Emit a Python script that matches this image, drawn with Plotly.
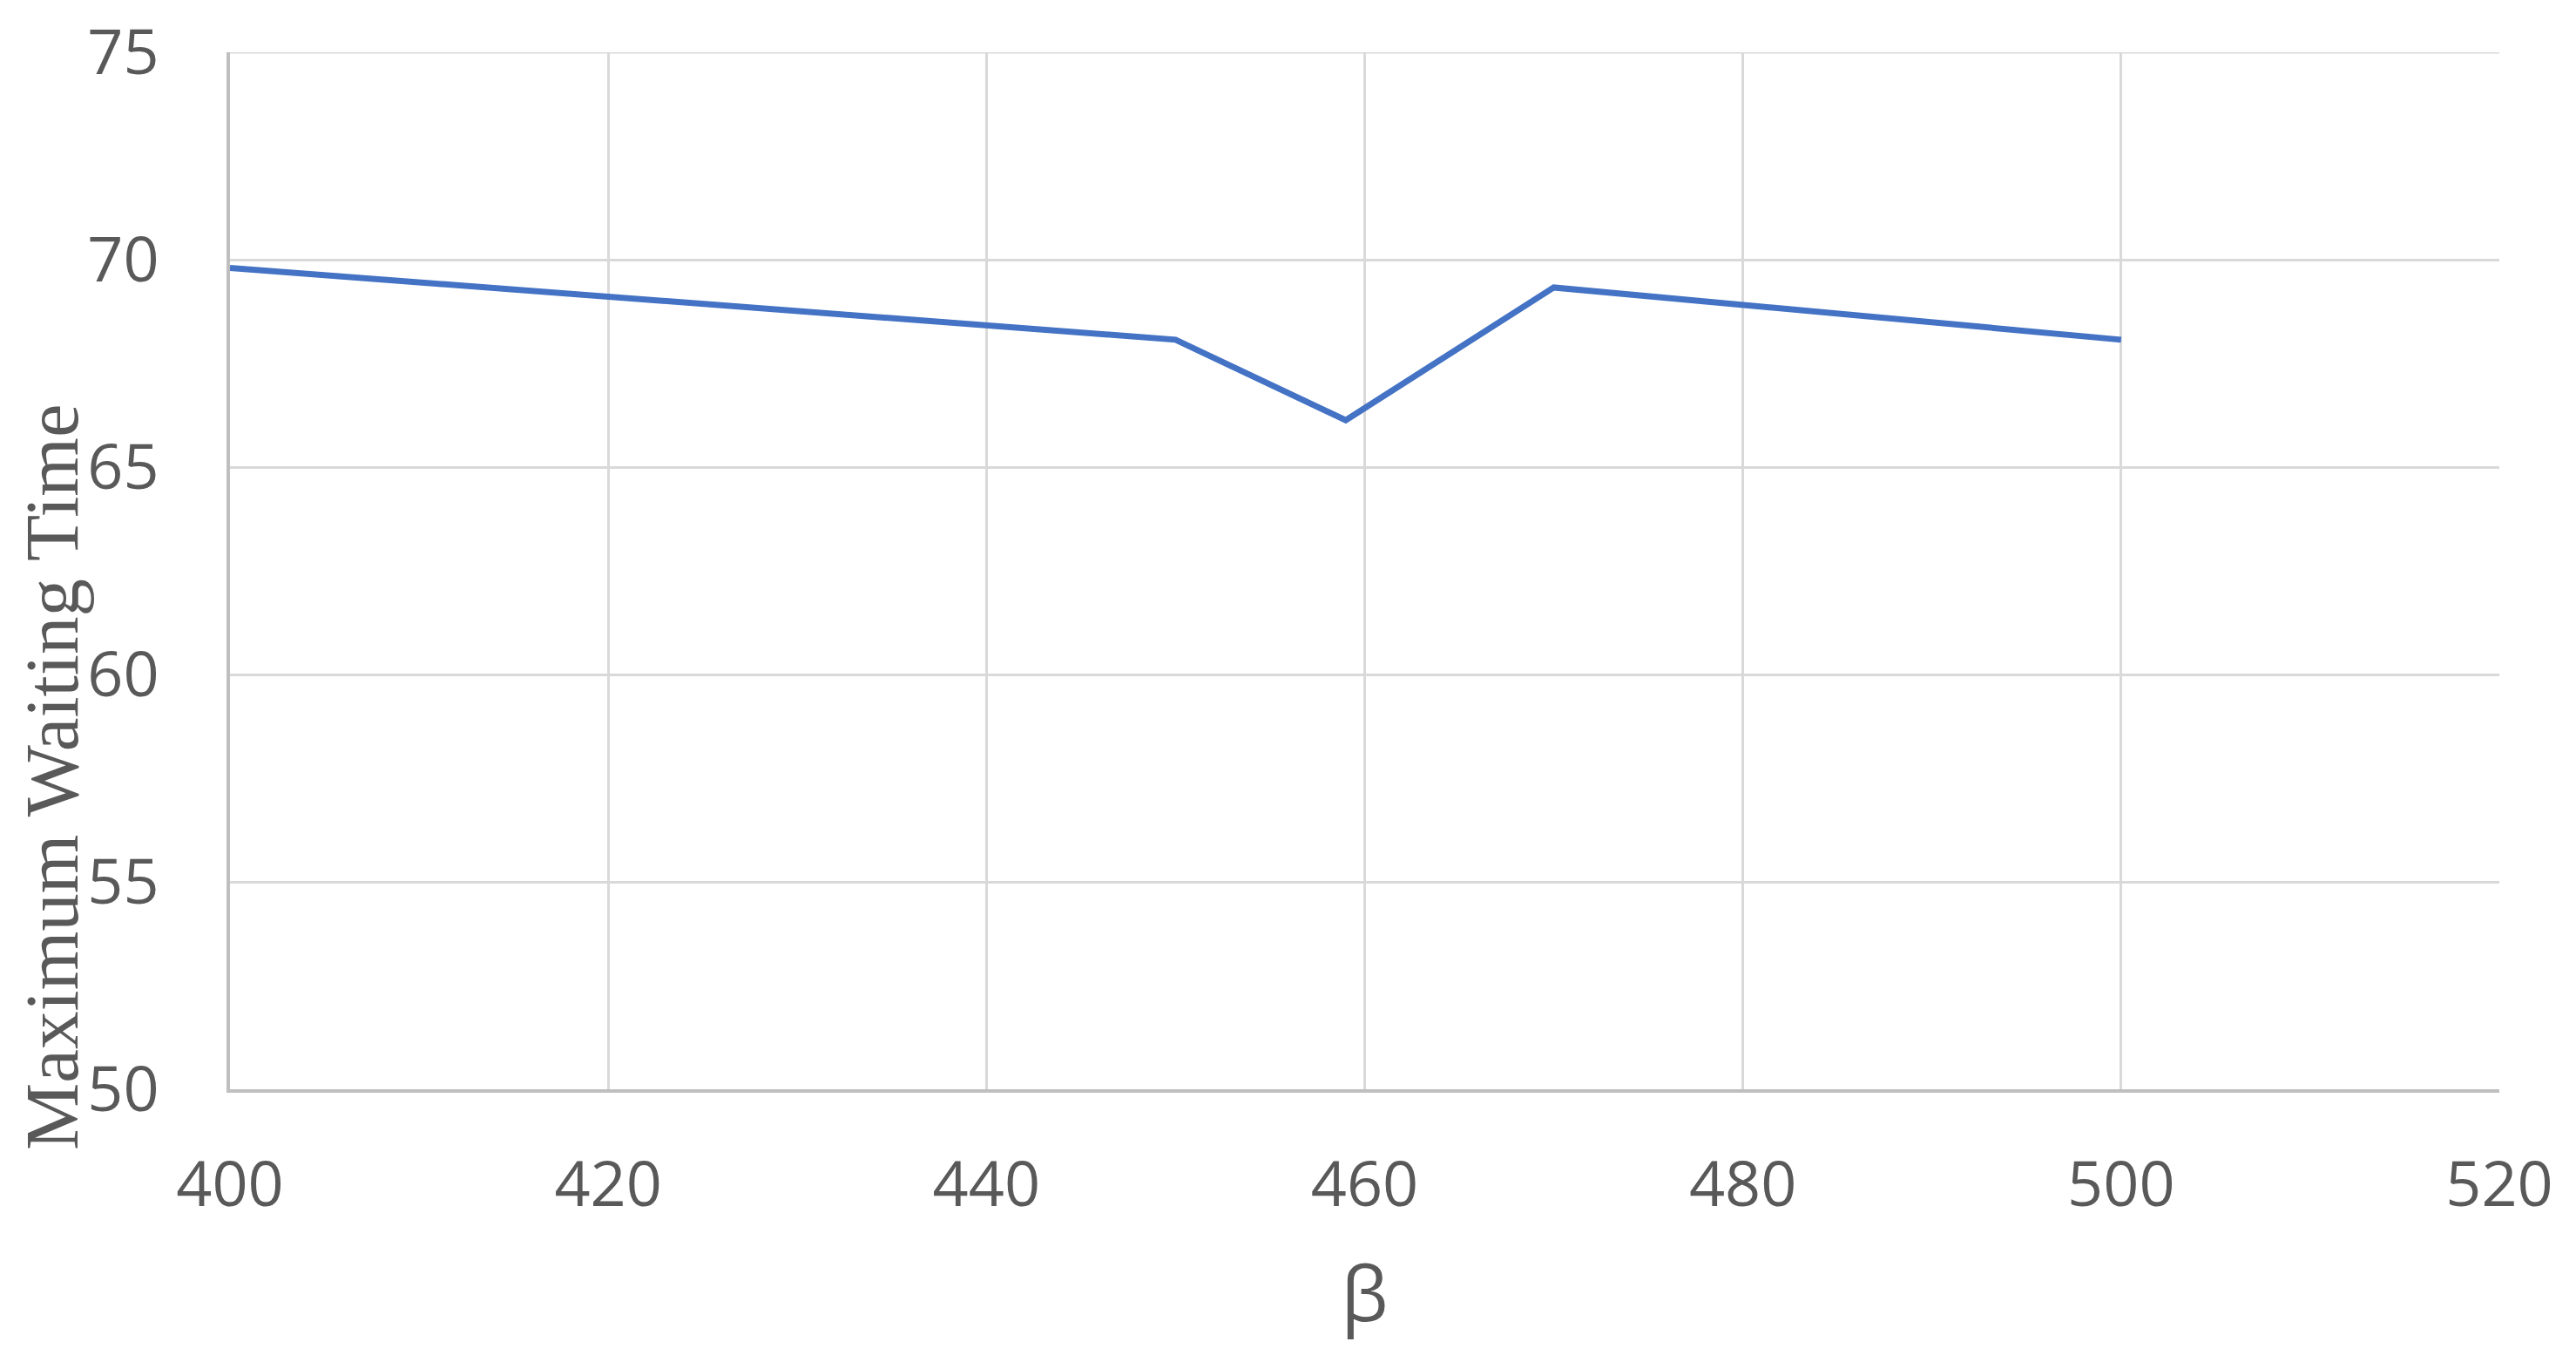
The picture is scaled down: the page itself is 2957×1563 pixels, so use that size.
import plotly.graph_objects as go

# Data
beta = [400, 450, 459, 470, 500]
max_waiting_time = [69.8, 68.07, 66.13, 69.33, 68.07]

x_ticks = [400, 420, 440, 460, 480, 500, 520]
y_ticks = [50, 55, 60, 65, 70, 75]

W, H = 2957, 1563
ML, MR, MT, MB = 256, 96, 52, 321

tick_font = dict(family="Open Sans, Noto Sans, sans-serif", size=72, color="#595959")

fig = go.Figure()
fig.add_trace(go.Scatter(
    x=beta,
    y=max_waiting_time,
    mode='lines',
    line=dict(color='#4472C4', width=7),
    showlegend=False
))

fig.update_layout(
    width=W, height=H,
    margin=dict(l=ML, r=MR, t=MT, b=MB),
    paper_bgcolor='white',
    plot_bgcolor='white',
    xaxis=dict(
        range=[400, 520],
        tickvals=x_ticks,
        showgrid=True, gridcolor='#d9d9d9', gridwidth=3,
        showline=True, linecolor='#bfbfbf', linewidth=4,
        zeroline=False, automargin=False,
        tickfont=tick_font,
        ticks='', ticklabelstandoff=44, ticklabeloverflow='allow',
        title=dict(text='β', font=dict(family="Open Sans, Noto Sans, sans-serif", size=86, color="#595959"),
                   standoff=52),
    ),
    yaxis=dict(
        range=[50, 75],
        tickvals=y_ticks,
        showgrid=True, gridcolor='#d9d9d9', gridwidth=3,
        showline=True, linecolor='#bfbfbf', linewidth=4,
        zeroline=False, automargin=False,
        tickfont=tick_font,
        ticks='', ticklabelstandoff=63, ticklabeloverflow='allow',
    ),
)

# top border of the plot area (gridline at 75 is not drawn by plotly at the edge)
fig.add_shape(type='line', xref='paper', yref='y', x0=0, x1=1, y0=75, y1=75,
              line=dict(color='#d9d9d9', width=3))

# y title sits low and overlaps the tick labels, as in the reference
fig.add_annotation(
    text='Maximum Waiting Time',
    textangle=-90,
    xref='paper', yref='paper',
    x=(51 - ML) / (W - ML - MR), y=(H - MB - 884) / (H - MT - MB),
    xanchor='center', yanchor='middle',
    showarrow=False,
    font=dict(family="Liberation Serif, serif", size=87, color="#595959"),
)

fig.write_html("out.html")
